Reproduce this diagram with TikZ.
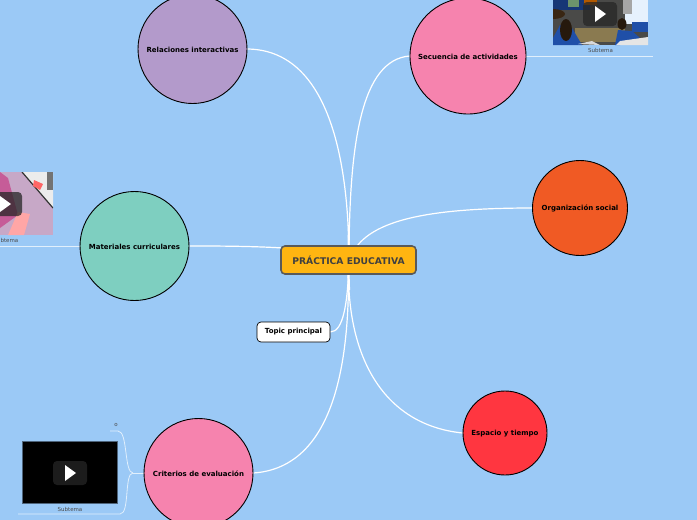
\documentclass[tikz,border=0pt]{standalone}
\usepackage{fontspec}
\setmainfont{DejaVu Sans}
\usetikzlibrary{backgrounds}
\definecolor{bgblue}{HTML}{9BC9F6}
\definecolor{lilac}{HTML}{B39ACB}
\definecolor{pinkc}{HTML}{F683AE}
\definecolor{orangec}{HTML}{F05A24}
\definecolor{redc}{HTML}{FF3640}
\definecolor{tealc}{HTML}{7ECFC0}
\definecolor{amber}{HTML}{FFB511}
\definecolor{pupil}{HTML}{1F4FA8}
\definecolor{room}{HTML}{4A4A48}
\definecolor{desk}{HTML}{8A7A50}
\tikzset{
  topicdisc/.style={circle,draw=black,line width=0.9pt,inner sep=0pt,minimum size=#1,align=center},
  lab/.style={font=\bfseries\fontsize{7}{8}\selectfont,text=black},
  mainbox/.style={rounded corners=4pt,draw=black!65,line width=1.6pt,fill=amber,minimum width=135pt,minimum height=28pt,inner sep=0pt,font=\bfseries\fontsize{9.2}{10}\selectfont,text=black!75},
  subbox/.style={rounded corners=4pt,draw=black,line width=0.7pt,fill=white,minimum width=73pt,minimum height=20pt,inner sep=0pt,font=\bfseries\fontsize{7}{8}\selectfont},
  branch/.style={draw=white,line width=1.2pt},
  subline/.style={draw=white!70!bgblue,line width=0.8pt},
  vidcap/.style={font=\fontsize{5.5}{6}\selectfont,text=black!70,inner sep=0pt},
  playbtn/.style={fill=black!85!white,fill opacity=0.75,rounded corners=4pt},
}
\newcommand{\playicon}[2]{%
  \fill[playbtn] (#1-17,#2-12) rectangle (#1+17,#2+12);
  \fill[white] (#1-5,#2-8) -- (#1+6,#2) -- (#1-5,#2+8) -- cycle;
}
\begin{document}
\begin{tikzpicture}[x=1pt,y=-1pt]
\useasboundingbox (0,0) rectangle (697,520);
\clip (0,0) rectangle (697,520);

% nodes
\node[mainbox] (main) at (348.5,260) {PRÁCTICA EDUCATIVA};
\coordinate (hub) at (349,262);
\coordinate (mainleft) at (283,248);
\node[subbox] (topic) at (293.5,332) {\raisebox{-1.5pt}{Topic principal}};
\node[topicdisc=109pt,fill=lilac] (rel) at (192.5,49) {};
\node[lab] at (192.5,49.5) {Relaciones interactivas};
\node[topicdisc=116pt,fill=pinkc] (sec) at (468,56) {};
\node[lab] at (468,56.5) {Secuencia de actividades};
\node[topicdisc=95pt,fill=orangec] (org) at (580,208) {};
\node[lab] at (580,208.5) {Organización social};
\node[topicdisc=84pt,fill=redc] (esp) at (505,433) {};
\node[lab] at (505,433.5) {Espacio y tiempo};
\node[topicdisc=109pt,fill=pinkc] (cri) at (198.5,473) {};
\node[lab] at (198.5,473.5) {Criterios de evaluación};
\node[topicdisc=109pt,fill=tealc] (mat) at (134.5,246) {};
\node[lab] at (134.5,246.5) {Materiales curriculares};

\coordinate (secend) at (653,56);
\coordinate (matend) at (0,246);
\coordinate (crifork) at (133,473);
\coordinate (critop) at (110,431);
\coordinate (cribot) at (18,514);

\begin{scope}[on background layer]
\fill[bgblue] (0,0) rectangle (697,520);
\draw[branch] (rel.east) .. controls (325,50) and (349,150) .. (hub);
\draw[branch] (sec.west) .. controls (362,60) and (349,140) .. (hub);
\draw[branch] (org.west) .. controls (420,208) and (360,222) .. (hub);
\draw[branch] (mat.east) .. controls (215,246) and (250,246) .. (mainleft);
\draw[branch] (esp.west) .. controls (385,425) and (349,360) .. (main.south);
\draw[branch] (cri.east) .. controls (325,468) and (349,385) .. (main.south);
\draw[branch] (topic.east) .. controls (344,332) and (347,300) .. (main.south);
\draw[branch,line width=2.2pt] (main.south) -- (349,290);
\draw[branch,line width=2pt] (main.north) -- (349,225);
\draw[subline] (sec.east) -- (secend);
\draw[subline] (mat.west) -- (matend);
\draw[subline] (cri.west) -- (crifork);
\draw[subline] (crifork) .. controls (124,473) and (128,431) .. (118,431) -- (critop);
\draw[subline] (crifork) .. controls (124,473) and (130,514) .. (120,514) -- (cribot);
\end{scope}

% video top right
\begin{scope}
\clip (553,0) rectangle (648,45);
\fill[room] (553,0) rectangle (648,45);
\fill[pupil!70!black] (553,0) rectangle (590,10);
\fill[white!75!bgblue] (625,0) rectangle (648,24);
\fill[black!35] (623,0) rectangle (632,14);
\fill[orange!70!black] (584,0) rectangle (597,5);
\fill[green!15!gray] (568,0) rectangle (579,7);
\fill[desk] (575,28) rectangle (625,42);
\fill[black!70!brown] (553,14) ellipse (12 and 5);
\fill[pupil] (553,38) -- (560,25) -- (572,28) -- (582,45) -- (553,45) -- cycle;
\fill[black!80!brown] (566,30) ellipse (6 and 11);
\fill[pupil] (615,45) -- (618,30) -- (632,31) -- (640,38) -- (620,45) -- cycle;
\fill[black!80!brown] (622,24) ellipse (4.5 and 6);
\fill[pupil] (632,22) rectangle (648,32);
\fill[white!80!gray] (620,41) -- (648,37) -- (648,45) -- (616,45) -- cycle;
\fill[white!70!gray] (578,44) -- (592,41) -- (600,45) -- cycle;
\playicon{600}{14}
\end{scope}
\node[vidcap] (cap1) at (600.5,50.5) {Subtema};

% video left
\begin{scope}
\clip (0,172) rectangle (53,235);
\fill[white!70!violet!80!gray] (0,172) rectangle (53,235);
\fill[white!85!gray] (22,172) -- (53,172) -- (53,208) -- cycle;
\draw[black!80,line width=1.2pt] (22,172) -- (53,208);
\fill[red!60!white] (34,180) -- (43,184) -- (40,190) -- (33,186) -- cycle;
\fill[black!55] (47,172) rectangle (53,190);
\fill[magenta!55!gray] (0,172) -- (8,178) -- (18,215) -- (0,228) -- cycle;
\fill[red!35!white] (18,212) -- (30,214) -- (24,235) -- (8,235) -- cycle;
\playicon{5}{204}
\end{scope}
\node[vidcap,anchor=east] (cap2) at (18.5,240) {Subtema};

% video bottom
\fill[black] (22,441) rectangle (117,503);
\draw[black!50!bgblue,line width=0.5pt] (22,441) rectangle (117,503);
\playicon{70}{473}
\node[vidcap] (cap3) at (70,509) {Subtema};
\node[vidcap] (cap4) at (116,425) {o};
\end{tikzpicture}
\end{document}
